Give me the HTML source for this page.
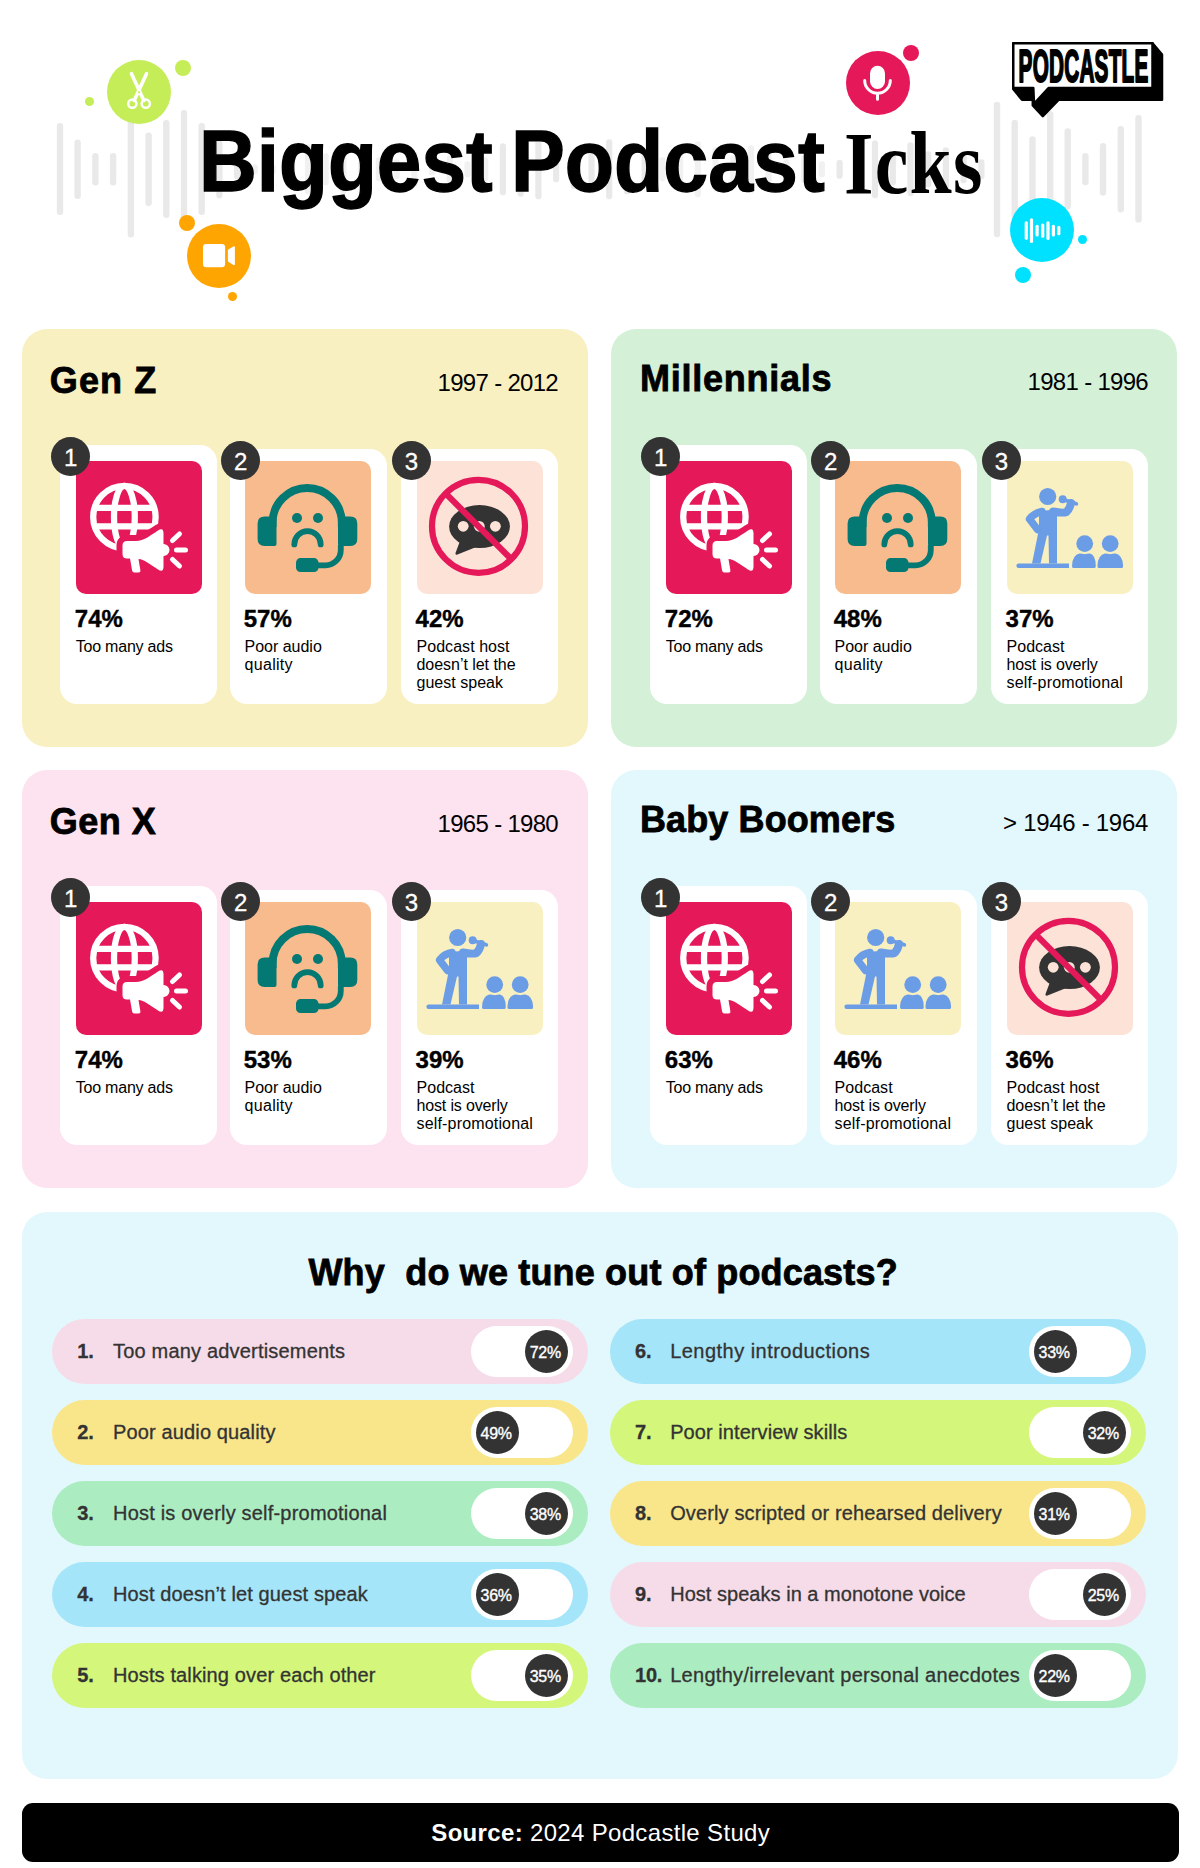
<!DOCTYPE html>
<html lang="en"><head><meta charset="utf-8"><title>Biggest Podcast Icks</title>
<meta name="viewport" content="width=1200">
<style>
*{box-sizing:border-box;margin:0;padding:0}
html,body{width:1200px;height:1868px;background:#fff;overflow:hidden}
body{position:relative;font-family:"Liberation Sans",sans-serif;color:#000}
.t{position:absolute;white-space:nowrap;font-weight:400;display:block}
h1,h2{font-size:inherit;font-weight:inherit}
.hero{position:absolute;left:0;top:0;width:1200px;height:320px}
.wave{position:absolute;left:0;top:0}
.bub{position:absolute;border-radius:50%}
.bub svg{display:block;width:100%;height:100%}
.logo{position:absolute;left:1000px;top:30px}
.panel{position:absolute;width:566px;height:418px;border-radius:25px}
.card{position:absolute;background:#fff;border-radius:17px}
.sq{position:absolute;width:126px;height:133px;border-radius:10px;overflow:hidden}
.sq svg{display:block}
.badge{position:absolute;width:39.500px;height:39.500px;border-radius:50%;background:#333;color:#fff;font-size:24px;line-height:41px;text-align:center;-webkit-text-stroke:0.300px #fff}
.why{position:absolute;width:1155.500px;height:566.500px;border-radius:25px;background:#e3f8fc}
.rows{list-style:none}
.row{position:absolute;width:536px;height:64.600px;border-radius:33px}
.tog{position:absolute;right:15px;top:7px;width:102px;height:50.600px;border-radius:26px;background:#fff}
.knob{position:absolute;top:3.700px;width:43.200px;height:43.200px;border-radius:50%;background:#333;color:#fff;font-size:16px;line-height:46.200px;text-align:center;letter-spacing:-0.300px;padding-right:3px;-webkit-text-stroke:.35px #fff}
.ph{-webkit-text-stroke:.8px #000}
.pct{-webkit-text-stroke:.4px #000}
.l{-webkit-text-stroke:.3px #333}
.n{-webkit-text-stroke:.3px #333}
.foot{position:absolute;left:22px;top:1803px;width:1157px;height:59px;border-radius:11px;background:#000;color:#fff}
</style></head>
<body>
<header class="hero">
<svg class="wave" viewBox="0 0 1200 320" width="1200" height="320" aria-hidden="true"><g fill="#e9e9e9"><rect x="56.8" y="123.0" width="6.4" height="92.0" rx="3.2"/><rect x="74.4" y="139.5" width="6.4" height="59.5" rx="3.2"/><rect x="92.2" y="153.0" width="6.4" height="32.5" rx="3.2"/><rect x="109.9" y="153.0" width="6.4" height="32.5" rx="3.2"/><rect x="127.7" y="100.5" width="6.4" height="137.0" rx="3.2"/><rect x="145.4" y="132.5" width="6.4" height="73.5" rx="3.2"/><rect x="163.1" y="120.0" width="6.4" height="98.0" rx="3.2"/><rect x="180.8" y="110.0" width="6.4" height="118.0" rx="3.2"/><rect x="198.5" y="123.0" width="6.4" height="92.0" rx="3.2"/><rect x="993.8" y="101.7" width="6.4" height="135.5" rx="3.2"/><rect x="1011.5" y="119.7" width="6.4" height="98.6" rx="3.2"/><rect x="1029.3" y="136.2" width="6.4" height="65.6" rx="3.2"/><rect x="1047.0" y="111.0" width="6.4" height="116.0" rx="3.2"/><rect x="1064.5" y="128.3" width="6.4" height="81.1" rx="3.2"/><rect x="1082.2" y="153.0" width="6.4" height="32.3" rx="3.2"/><rect x="1099.8" y="142.9" width="6.4" height="52.8" rx="3.2"/><rect x="1117.6" y="126.0" width="6.4" height="86.5" rx="3.2"/><rect x="1135.3" y="115.0" width="6.4" height="107.7" rx="3.2"/></g><g fill="#e9e9e9"><rect x="216.3" y="140.3" width="6.2" height="58.0" rx="3.1"/><rect x="234.0" y="159.3" width="6.2" height="20.0" rx="3.1"/><rect x="499.8" y="143.3" width="6.2" height="52.0" rx="3.1"/><rect x="517.5" y="141.8" width="6.2" height="55.0" rx="3.1"/><rect x="535.3" y="139.3" width="6.2" height="60.0" rx="3.1"/><rect x="553.0" y="156.3" width="6.2" height="26.0" rx="3.1"/><rect x="570.7" y="149.3" width="6.2" height="40.0" rx="3.1"/><rect x="588.4" y="145.3" width="6.2" height="48.0" rx="3.1"/><rect x="606.1" y="139.3" width="6.2" height="60.0" rx="3.1"/><rect x="623.9" y="144.3" width="6.2" height="50.0" rx="3.1"/><rect x="641.6" y="151.3" width="6.2" height="36.0" rx="3.1"/><rect x="836.5" y="159.8" width="6.2" height="19.0" rx="3.1"/><rect x="854.2" y="149.3" width="6.2" height="40.0" rx="3.1"/><rect x="871.9" y="140.3" width="6.2" height="58.0" rx="3.1"/><rect x="889.7" y="153.3" width="6.2" height="32.0" rx="3.1"/><rect x="907.4" y="142.3" width="6.2" height="54.0" rx="3.1"/><rect x="925.1" y="151.3" width="6.2" height="36.0" rx="3.1"/><rect x="942.8" y="147.3" width="6.2" height="44.0" rx="3.1"/><rect x="960.5" y="155.3" width="6.2" height="28.0" rx="3.1"/><rect x="978.3" y="159.3" width="6.2" height="20.0" rx="3.1"/></g><g fill="#f1f1f1"><rect x="251.7" y="164.3" width="6.2" height="10.0" rx="3.1"/><rect x="269.5" y="164.3" width="6.2" height="10.0" rx="3.1"/><rect x="287.2" y="161.3" width="6.2" height="16.0" rx="3.1"/><rect x="304.9" y="144.3" width="6.2" height="50.0" rx="3.1"/><rect x="322.6" y="153.3" width="6.2" height="32.0" rx="3.1"/><rect x="340.3" y="144.3" width="6.2" height="50.0" rx="3.1"/><rect x="358.1" y="159.3" width="6.2" height="20.0" rx="3.1"/><rect x="375.8" y="157.3" width="6.2" height="24.0" rx="3.1"/><rect x="393.5" y="159.3" width="6.2" height="20.0" rx="3.1"/><rect x="411.2" y="151.3" width="6.2" height="36.0" rx="3.1"/><rect x="428.9" y="163.3" width="6.2" height="12.0" rx="3.1"/><rect x="446.7" y="155.3" width="6.2" height="28.0" rx="3.1"/><rect x="464.4" y="161.3" width="6.2" height="16.0" rx="3.1"/><rect x="482.1" y="157.3" width="6.2" height="24.0" rx="3.1"/><rect x="659.3" y="157.3" width="6.2" height="24.0" rx="3.1"/><rect x="677.0" y="149.3" width="6.2" height="40.0" rx="3.1"/><rect x="694.7" y="141.3" width="6.2" height="56.0" rx="3.1"/><rect x="712.5" y="147.3" width="6.2" height="44.0" rx="3.1"/><rect x="730.2" y="155.3" width="6.2" height="28.0" rx="3.1"/><rect x="747.9" y="145.3" width="6.2" height="48.0" rx="3.1"/><rect x="765.6" y="153.3" width="6.2" height="32.0" rx="3.1"/><rect x="783.3" y="159.3" width="6.2" height="20.0" rx="3.1"/><rect x="801.1" y="155.3" width="6.2" height="28.0" rx="3.1"/><rect x="818.8" y="161.3" width="6.2" height="16.0" rx="3.1"/></g></svg>
<h1 class="title"><span class="t tb" style="left:199.40px;top:118.43px;font-size:87.5px;line-height:87.5px;font-weight:700;-webkit-text-stroke:1.4px #000;transform:scaleX(.915);transform-origin:0 0;">Biggest</span><span class="t tb" style="left:511.10px;top:118.43px;font-size:87.5px;line-height:87.5px;font-weight:700;-webkit-text-stroke:1.4px #000;transform:scaleX(.922);transform-origin:0 0;">Podcast</span><span class="t ts" style="left:844.40px;top:119.90px;font-size:88px;line-height:88px;font-weight:700;letter-spacing:1.5px;font-family:'Liberation Serif', serif;transform:scaleX(.86);transform-origin:0 0;">Icks</span></h1>
<div class="bub" style="left:107.0px;top:60.0px;width:64px;height:64px;background:#c4ed58"><svg viewBox="-32 -32 64 64" width="64" height="64" aria-hidden="true"><g fill="none" stroke="#fff"><path d="M-7.500-18.300L4.800 8.500M7.500-18.300L-4.800 8.500" stroke-width="3.600" stroke-linecap="round"/><circle cx="-6.700" cy="11.700" r="4.100" stroke-width="2.500"/><circle cx="6.800" cy="11.700" r="4.100" stroke-width="2.500"/></g><circle cx="0" cy="0.300" r="1.100" fill="#c4ed58"/></svg></div>
<div class="bub" style="left:175.0px;top:59.8px;width:16px;height:16px;background:#c4ed58"></div>
<div class="bub" style="left:84.8px;top:96.8px;width:9.0px;height:9.0px;background:#c4ed58"></div>
<div class="bub" style="left:846.0px;top:51.0px;width:64px;height:64px;background:#e5195a"><svg viewBox="-32 -32 64 64" width="64" height="64" aria-hidden="true"><rect x="-8" y="-17.300" width="15" height="23.300" rx="7.500" fill="#fff"/><path d="M-13.300-2.500A12.800 12.800 0 0 0 12.300-2.500M-0.500 10.500V16.200" fill="none" stroke="#fff" stroke-width="3" stroke-linecap="round"/></svg></div>
<div class="bub" style="left:903.0px;top:44.8px;width:16px;height:16px;background:#e5195a"></div>
<div class="bub" style="left:187.0px;top:224.0px;width:64px;height:64px;background:#ffa502"><svg viewBox="-32 -32 64 64" width="64" height="64" aria-hidden="true"><rect x="-16" y="-12" width="22.100" height="23.200" rx="3.300" fill="#fff"/><path d="M8.900-6.300L14.400-9.600Q15.900-10.300 15.900-8.600V7.900Q15.900 9.600 14.400 8.900L8.900 5.600Z" fill="#fff"/></svg></div>
<div class="bub" style="left:179.0px;top:214.8px;width:16px;height:16px;background:#ffa502"></div>
<div class="bub" style="left:227.9px;top:291.8px;width:9.0px;height:9.0px;background:#ffa502"></div>
<div class="bub" style="left:1010.0px;top:198.0px;width:64px;height:64px;background:#00e1ff"><svg viewBox="-32 -32 64 64" width="64" height="64" aria-hidden="true"><g fill="#fff"><rect x="-17.35" y="-8.78" width="3.2" height="18.75" rx="1.6"/><rect x="-12.10" y="-11.80" width="3.2" height="24.8" rx="1.6"/><rect x="-6.50" y="-5.35" width="3.2" height="11.9" rx="1.6"/><rect x="-0.90" y="-6.55" width="3.2" height="14.3" rx="1.6"/><rect x="4.40" y="-8.80" width="3.2" height="18.8" rx="1.6"/><rect x="9.80" y="-5.35" width="3.2" height="11.9" rx="1.6"/><rect x="15.20" y="-4.15" width="3.2" height="9.5" rx="1.6"/></g></svg></div>
<div class="bub" style="left:1077.8px;top:234.7px;width:9.2px;height:9.2px;background:#00e1ff"></div>
<div class="bub" style="left:1014.8px;top:266.8px;width:16px;height:16px;background:#00e1ff"></div>
<svg class="logo" viewBox="1000 30 180 100" width="180" height="100" role="img" aria-label="Podcastle">
<path d="M1013.250 43.250H1152.500L1162 54.500V99.800H1058.500L1042.800 116.200L1032.800 105.500V99.800H1022L1013.250 89Z" fill="#000" stroke="#000" stroke-width="2.500" stroke-linejoin="round"/>
<path d="M1013.250 43.250H1152.500V88H1048.500L1034 103.800L1033.300 88H1013.250Z" fill="#fff" stroke="#000" stroke-width="2.500" stroke-linejoin="round"/>
<text transform="translate(1018.600 82) scale(0.455 1)" font-family="Liberation Sans, sans-serif" font-weight="700" font-size="45.500" stroke="#000" stroke-width="1.700" vector-effect="non-scaling-stroke" stroke-linejoin="round" textLength="285" lengthAdjust="spacing">PODCASTLE</text>
</svg>
</header>
<main>
<section class="panel" style="left:22px;top:329px;background:#f9f0c1">
<h2 class="t ph" style="left:27.80px;top:34.13px;font-size:36px;line-height:36px;font-weight:700;letter-spacing:1.1px;">Gen Z</h2>
<span class="t yr" style="right:30.00px;top:42.38px;font-size:24px;line-height:24px;letter-spacing:-0.7px;">1997 - 2012</span>
<div class="card" style="left:38px;top:116px;width:157px;height:258.7px">
<div class="sq" style="left:16.1px;top:16px;background:#e5195a"><svg viewBox="0 0 126 133" width="126" height="133" aria-hidden="true">
<g fill="none" stroke="#fff" stroke-width="6.3">
<circle cx="48.4" cy="56" r="31.2"/>
<ellipse cx="48.4" cy="56" rx="10.4" ry="31.2"/>
<path d="M19 46.8H78M19 65.4H78"/>
</g>
<path id="mega" d="M46.5 84.5Q46.5 80 51 80H60C68 80 74 74.5 82 69.5Q87.5 66 87.5 72.5V83A6 6 0 0 1 87.5 95V105.5Q87.5 112 82 108.5C74 103.500 68 98 62.500 98L64.400 109.300Q64.800 111.500 62.600 111.500H58.300Q56.500 111.500 56.100 109.500L54 97.500H51Q46.500 97.500 46.500 93Z" fill="#fff" stroke="#e5195a" stroke-width="12" stroke-linejoin="round" paint-order="stroke"/>
<g stroke="#fff" stroke-width="5" stroke-linecap="round"><path d="M96.500 79.500L103.500 73M100.500 89H109.500M96.500 98.500L103.500 105"/></g>
</svg></div>
<div class="badge" style="left:-9.05px;top:-8.35px">1</div>
<span class="t pct" style="left:14.80px;top:162.28px;font-size:24px;line-height:24px;font-weight:700;">74%</span>
<span class="t lbl" style="left:15.70px;top:193.96px;font-size:16px;line-height:16px;letter-spacing:-0.21px;">Too many ads</span>
</div>
<div class="card" style="left:207.5px;top:120px;width:157px;height:254.7px">
<div class="sq" style="left:15.5px;top:12px;background:#f8bb8e"><svg viewBox="0 0 126 133" width="126" height="133" aria-hidden="true">
<g fill="none" stroke="#047873">
<path d="M27.600 66V61.600A34.600 34.600 0 0 1 96.800 61.600V66" stroke-width="7.900"/>
<path d="M95.800 84V89A15.300 15.300 0 0 1 80.500 104.300H70" stroke-width="5.800"/>
<path d="M49.300 83.400A13.200 13.200 0 0 1 75.700 83.400" stroke-width="5.800" stroke-linecap="round"/>
</g>
<g fill="#047873">
<path d="M31.500 55.600V83Q31.500 85 29.500 85H19.600Q12.600 85 12.600 78V62.600Q12.600 55.600 19.600 55.600Z"/>
<path d="M93 55.600V83Q93 85 95 85H105.300Q112.300 85 112.300 78V62.600Q112.300 55.600 105.300 55.600Z"/>
<rect x="51" y="97.100" width="22.500" height="14" rx="4.500"/>
<circle cx="52" cy="57" r="5"/><circle cx="73" cy="57" r="5"/>
</g>
</svg></div>
<div class="badge" style="left:-8.55px;top:-8.45px">2</div>
<span class="t pct" style="left:14.20px;top:158.28px;font-size:24px;line-height:24px;font-weight:700;">57%</span>
<span class="t lbl" style="left:15.10px;top:189.96px;font-size:16px;line-height:16px;letter-spacing:-0.02px;">Poor audio</span>
<span class="t lbl" style="left:15.10px;top:207.96px;font-size:16px;line-height:16px;letter-spacing:0.29px;">quality</span>
</div>
<div class="card" style="left:378.5px;top:120px;width:157.5px;height:254.7px">
<div class="sq" style="left:16.4px;top:12px;background:#fde3d7"><svg viewBox="0 0 126 133" width="126" height="133" aria-hidden="true">
<g fill="#333">
<ellipse cx="62.500" cy="65.600" rx="30.400" ry="21.500"/>
<path d="M43 80L38.500 92Q38 94.200 40.500 93.500L58 86.500Z"/>
</g>
<g fill="#fde3d7"><circle cx="46.200" cy="65.300" r="5.400"/><circle cx="62.300" cy="65.300" r="5.400"/><circle cx="78.400" cy="65.300" r="5.400"/></g>
<g fill="none" stroke="#e5195a" stroke-width="6.200">
<circle cx="61.500" cy="65.300" r="46.500"/>
<path d="M28.600 32.400L94.400 98.200"/>
</g>
</svg></div>
<div class="badge" style="left:-8.95px;top:-8.45px">3</div>
<span class="t pct" style="left:15.10px;top:158.28px;font-size:24px;line-height:24px;font-weight:700;">42%</span>
<span class="t lbl" style="left:16.00px;top:189.96px;font-size:16px;line-height:16px;letter-spacing:0.05px;">Podcast host</span>
<span class="t lbl" style="left:16.00px;top:207.96px;font-size:16px;line-height:16px;letter-spacing:-0.04px;">doesn’t let the</span>
<span class="t lbl" style="left:16.00px;top:225.96px;font-size:16px;line-height:16px;letter-spacing:0.02px;">guest speak</span>
</div>
</section>
<section class="panel" style="left:611px;top:329px;background:#d4f1d8">
<h2 class="t ph" style="left:29.00px;top:32.03px;font-size:36px;line-height:36px;font-weight:700;letter-spacing:0.75px;">Millennials</h2>
<span class="t yr" style="right:29.00px;top:40.88px;font-size:24px;line-height:24px;letter-spacing:-0.7px;">1981 - 1996</span>
<div class="card" style="left:39px;top:116px;width:157px;height:258.7px">
<div class="sq" style="left:16.1px;top:16px;background:#e5195a"><svg viewBox="0 0 126 133" width="126" height="133" aria-hidden="true">
<g fill="none" stroke="#fff" stroke-width="6.3">
<circle cx="48.4" cy="56" r="31.2"/>
<ellipse cx="48.4" cy="56" rx="10.4" ry="31.2"/>
<path d="M19 46.8H78M19 65.4H78"/>
</g>
<path id="mega" d="M46.5 84.5Q46.5 80 51 80H60C68 80 74 74.5 82 69.5Q87.5 66 87.5 72.5V83A6 6 0 0 1 87.5 95V105.5Q87.5 112 82 108.5C74 103.500 68 98 62.500 98L64.400 109.300Q64.800 111.500 62.600 111.500H58.300Q56.500 111.500 56.100 109.500L54 97.500H51Q46.500 97.500 46.500 93Z" fill="#fff" stroke="#e5195a" stroke-width="12" stroke-linejoin="round" paint-order="stroke"/>
<g stroke="#fff" stroke-width="5" stroke-linecap="round"><path d="M96.500 79.500L103.500 73M100.500 89H109.500M96.500 98.500L103.500 105"/></g>
</svg></div>
<div class="badge" style="left:-9.05px;top:-8.35px">1</div>
<span class="t pct" style="left:14.80px;top:162.28px;font-size:24px;line-height:24px;font-weight:700;">72%</span>
<span class="t lbl" style="left:15.70px;top:193.96px;font-size:16px;line-height:16px;letter-spacing:-0.21px;">Too many ads</span>
</div>
<div class="card" style="left:208.5px;top:120px;width:157px;height:254.7px">
<div class="sq" style="left:15.5px;top:12px;background:#f8bb8e"><svg viewBox="0 0 126 133" width="126" height="133" aria-hidden="true">
<g fill="none" stroke="#047873">
<path d="M27.600 66V61.600A34.600 34.600 0 0 1 96.800 61.600V66" stroke-width="7.900"/>
<path d="M95.800 84V89A15.300 15.300 0 0 1 80.500 104.300H70" stroke-width="5.800"/>
<path d="M49.300 83.400A13.200 13.200 0 0 1 75.700 83.400" stroke-width="5.800" stroke-linecap="round"/>
</g>
<g fill="#047873">
<path d="M31.500 55.600V83Q31.500 85 29.500 85H19.600Q12.600 85 12.600 78V62.600Q12.600 55.600 19.600 55.600Z"/>
<path d="M93 55.600V83Q93 85 95 85H105.300Q112.300 85 112.300 78V62.600Q112.300 55.600 105.300 55.600Z"/>
<rect x="51" y="97.100" width="22.500" height="14" rx="4.500"/>
<circle cx="52" cy="57" r="5"/><circle cx="73" cy="57" r="5"/>
</g>
</svg></div>
<div class="badge" style="left:-8.55px;top:-8.45px">2</div>
<span class="t pct" style="left:14.20px;top:158.28px;font-size:24px;line-height:24px;font-weight:700;">48%</span>
<span class="t lbl" style="left:15.10px;top:189.96px;font-size:16px;line-height:16px;letter-spacing:-0.02px;">Poor audio</span>
<span class="t lbl" style="left:15.10px;top:207.96px;font-size:16px;line-height:16px;letter-spacing:0.29px;">quality</span>
</div>
<div class="card" style="left:379.5px;top:120px;width:157.5px;height:254.7px">
<div class="sq" style="left:16.4px;top:12px;background:#f9f0c2"><svg viewBox="0 0 126 133" width="126" height="133" aria-hidden="true">
<g fill="#6b9ce6">
<circle cx="40.700" cy="35.500" r="8.600"/>
<circle cx="55.700" cy="38.300" r="4"/>
<path d="M32 50L50 48.500V102.500H42L41.500 74.500H40L33.500 102.500H25L32 68Z"/>
<path d="M9.400 104.650a2.250 2.250 0 0 1 2.250-2.250H62V106.900H11.650a2.250 2.250 0 0 1-2.250-2.250Z"/>
<path d="M66.600 106.900Q65.100 106.900 65.100 105.400V104Q65.600 94 72.500 92.400H83Q88.500 94 88.700 104V105.400Q88.700 106.900 87.200 106.900Z"/>
<path d="M92 106.900Q90.500 106.900 90.500 105.400V104Q91 94 98 92.400H108.500Q115.500 94 116 104V105.400Q116 106.900 114.500 106.900Z"/>
</g>
<g fill="none" stroke="#6b9ce6" stroke-linecap="round" stroke-linejoin="round">
<path d="M56 38.500L69.300 42.800" stroke-width="3.800"/>
<path d="M46 50.500Q56 52.500 59.500 51Q63 47.500 64 42" stroke-width="8"/>
<path d="M35 50.500Q27 52 22.500 58L30.500 68.500" stroke-width="7.500"/>
</g>
<g fill="#f9f0c2"><circle cx="77.700" cy="82.600" r="10.600"/><circle cx="103.200" cy="82.600" r="10.600"/></g>
<g fill="#6b9ce6"><circle cx="77.700" cy="82.600" r="8.400"/><circle cx="103.200" cy="82.600" r="8.400"/></g>
</svg></div>
<div class="badge" style="left:-8.95px;top:-8.45px">3</div>
<span class="t pct" style="left:15.10px;top:158.28px;font-size:24px;line-height:24px;font-weight:700;">37%</span>
<span class="t lbl" style="left:16.00px;top:189.96px;font-size:16px;line-height:16px;letter-spacing:0.03px;">Podcast</span>
<span class="t lbl" style="left:16.00px;top:207.96px;font-size:16px;line-height:16px;letter-spacing:-0.16px;">host is overly</span>
<span class="t lbl" style="left:16.00px;top:225.96px;font-size:16px;line-height:16px;letter-spacing:0.17px;">self-promotional</span>
</div>
</section>
<section class="panel" style="left:22px;top:770px;background:#fde2f0">
<h2 class="t ph" style="left:27.80px;top:34.13px;font-size:36px;line-height:36px;font-weight:700;letter-spacing:0.5px;">Gen X</h2>
<span class="t yr" style="right:30.00px;top:42.38px;font-size:24px;line-height:24px;letter-spacing:-0.7px;">1965 - 1980</span>
<div class="card" style="left:38px;top:116px;width:157px;height:258.7px">
<div class="sq" style="left:16.1px;top:16px;background:#e5195a"><svg viewBox="0 0 126 133" width="126" height="133" aria-hidden="true">
<g fill="none" stroke="#fff" stroke-width="6.3">
<circle cx="48.4" cy="56" r="31.2"/>
<ellipse cx="48.4" cy="56" rx="10.4" ry="31.2"/>
<path d="M19 46.8H78M19 65.4H78"/>
</g>
<path id="mega" d="M46.5 84.5Q46.5 80 51 80H60C68 80 74 74.5 82 69.5Q87.5 66 87.5 72.5V83A6 6 0 0 1 87.5 95V105.5Q87.5 112 82 108.5C74 103.500 68 98 62.500 98L64.400 109.300Q64.800 111.500 62.600 111.500H58.300Q56.500 111.500 56.100 109.500L54 97.500H51Q46.500 97.500 46.500 93Z" fill="#fff" stroke="#e5195a" stroke-width="12" stroke-linejoin="round" paint-order="stroke"/>
<g stroke="#fff" stroke-width="5" stroke-linecap="round"><path d="M96.500 79.500L103.500 73M100.500 89H109.500M96.500 98.500L103.500 105"/></g>
</svg></div>
<div class="badge" style="left:-9.05px;top:-8.35px">1</div>
<span class="t pct" style="left:14.80px;top:162.28px;font-size:24px;line-height:24px;font-weight:700;">74%</span>
<span class="t lbl" style="left:15.70px;top:193.96px;font-size:16px;line-height:16px;letter-spacing:-0.21px;">Too many ads</span>
</div>
<div class="card" style="left:207.5px;top:120px;width:157px;height:254.7px">
<div class="sq" style="left:15.5px;top:12px;background:#f8bb8e"><svg viewBox="0 0 126 133" width="126" height="133" aria-hidden="true">
<g fill="none" stroke="#047873">
<path d="M27.600 66V61.600A34.600 34.600 0 0 1 96.800 61.600V66" stroke-width="7.900"/>
<path d="M95.800 84V89A15.300 15.300 0 0 1 80.500 104.300H70" stroke-width="5.800"/>
<path d="M49.300 83.400A13.200 13.200 0 0 1 75.700 83.400" stroke-width="5.800" stroke-linecap="round"/>
</g>
<g fill="#047873">
<path d="M31.500 55.600V83Q31.500 85 29.500 85H19.600Q12.600 85 12.600 78V62.600Q12.600 55.600 19.600 55.600Z"/>
<path d="M93 55.600V83Q93 85 95 85H105.300Q112.300 85 112.300 78V62.600Q112.300 55.600 105.300 55.600Z"/>
<rect x="51" y="97.100" width="22.500" height="14" rx="4.500"/>
<circle cx="52" cy="57" r="5"/><circle cx="73" cy="57" r="5"/>
</g>
</svg></div>
<div class="badge" style="left:-8.55px;top:-8.45px">2</div>
<span class="t pct" style="left:14.20px;top:158.28px;font-size:24px;line-height:24px;font-weight:700;">53%</span>
<span class="t lbl" style="left:15.10px;top:189.96px;font-size:16px;line-height:16px;letter-spacing:-0.02px;">Poor audio</span>
<span class="t lbl" style="left:15.10px;top:207.96px;font-size:16px;line-height:16px;letter-spacing:0.29px;">quality</span>
</div>
<div class="card" style="left:378.5px;top:120px;width:157.5px;height:254.7px">
<div class="sq" style="left:16.4px;top:12px;background:#f9f0c2"><svg viewBox="0 0 126 133" width="126" height="133" aria-hidden="true">
<g fill="#6b9ce6">
<circle cx="40.700" cy="35.500" r="8.600"/>
<circle cx="55.700" cy="38.300" r="4"/>
<path d="M32 50L50 48.500V102.500H42L41.500 74.500H40L33.500 102.500H25L32 68Z"/>
<path d="M9.400 104.650a2.250 2.250 0 0 1 2.250-2.250H62V106.900H11.650a2.250 2.250 0 0 1-2.250-2.250Z"/>
<path d="M66.600 106.900Q65.100 106.900 65.100 105.400V104Q65.600 94 72.500 92.400H83Q88.500 94 88.700 104V105.400Q88.700 106.900 87.200 106.900Z"/>
<path d="M92 106.900Q90.500 106.900 90.500 105.400V104Q91 94 98 92.400H108.500Q115.500 94 116 104V105.400Q116 106.900 114.500 106.900Z"/>
</g>
<g fill="none" stroke="#6b9ce6" stroke-linecap="round" stroke-linejoin="round">
<path d="M56 38.500L69.300 42.800" stroke-width="3.800"/>
<path d="M46 50.500Q56 52.500 59.500 51Q63 47.500 64 42" stroke-width="8"/>
<path d="M35 50.500Q27 52 22.500 58L30.500 68.500" stroke-width="7.500"/>
</g>
<g fill="#f9f0c2"><circle cx="77.700" cy="82.600" r="10.600"/><circle cx="103.200" cy="82.600" r="10.600"/></g>
<g fill="#6b9ce6"><circle cx="77.700" cy="82.600" r="8.400"/><circle cx="103.200" cy="82.600" r="8.400"/></g>
</svg></div>
<div class="badge" style="left:-8.95px;top:-8.45px">3</div>
<span class="t pct" style="left:15.10px;top:158.28px;font-size:24px;line-height:24px;font-weight:700;">39%</span>
<span class="t lbl" style="left:16.00px;top:189.96px;font-size:16px;line-height:16px;letter-spacing:0.03px;">Podcast</span>
<span class="t lbl" style="left:16.00px;top:207.96px;font-size:16px;line-height:16px;letter-spacing:-0.16px;">host is overly</span>
<span class="t lbl" style="left:16.00px;top:225.96px;font-size:16px;line-height:16px;letter-spacing:0.17px;">self-promotional</span>
</div>
</section>
<section class="panel" style="left:611px;top:770px;background:#e3f8fc">
<h2 class="t ph" style="left:29.00px;top:32.03px;font-size:36px;line-height:36px;font-weight:700;letter-spacing:0.1px;">Baby Boomers</h2>
<span class="t yr" style="right:29.00px;top:40.88px;font-size:24px;line-height:24px;letter-spacing:-0.3px;">&gt; 1946 - 1964</span>
<div class="card" style="left:39px;top:116px;width:157px;height:258.7px">
<div class="sq" style="left:16.1px;top:16px;background:#e5195a"><svg viewBox="0 0 126 133" width="126" height="133" aria-hidden="true">
<g fill="none" stroke="#fff" stroke-width="6.3">
<circle cx="48.4" cy="56" r="31.2"/>
<ellipse cx="48.4" cy="56" rx="10.4" ry="31.2"/>
<path d="M19 46.8H78M19 65.4H78"/>
</g>
<path id="mega" d="M46.5 84.5Q46.5 80 51 80H60C68 80 74 74.5 82 69.5Q87.5 66 87.5 72.5V83A6 6 0 0 1 87.5 95V105.5Q87.5 112 82 108.5C74 103.500 68 98 62.500 98L64.400 109.300Q64.800 111.500 62.600 111.500H58.300Q56.500 111.500 56.100 109.500L54 97.500H51Q46.500 97.500 46.500 93Z" fill="#fff" stroke="#e5195a" stroke-width="12" stroke-linejoin="round" paint-order="stroke"/>
<g stroke="#fff" stroke-width="5" stroke-linecap="round"><path d="M96.500 79.500L103.500 73M100.500 89H109.500M96.500 98.500L103.500 105"/></g>
</svg></div>
<div class="badge" style="left:-9.05px;top:-8.35px">1</div>
<span class="t pct" style="left:14.80px;top:162.28px;font-size:24px;line-height:24px;font-weight:700;">63%</span>
<span class="t lbl" style="left:15.70px;top:193.96px;font-size:16px;line-height:16px;letter-spacing:-0.21px;">Too many ads</span>
</div>
<div class="card" style="left:208.5px;top:120px;width:157px;height:254.7px">
<div class="sq" style="left:15.5px;top:12px;background:#f9f0c2"><svg viewBox="0 0 126 133" width="126" height="133" aria-hidden="true">
<g fill="#6b9ce6">
<circle cx="40.700" cy="35.500" r="8.600"/>
<circle cx="55.700" cy="38.300" r="4"/>
<path d="M32 50L50 48.500V102.500H42L41.500 74.500H40L33.500 102.500H25L32 68Z"/>
<path d="M9.400 104.650a2.250 2.250 0 0 1 2.250-2.250H62V106.900H11.650a2.250 2.250 0 0 1-2.250-2.250Z"/>
<path d="M66.600 106.900Q65.100 106.900 65.100 105.400V104Q65.600 94 72.500 92.400H83Q88.500 94 88.700 104V105.400Q88.700 106.900 87.200 106.900Z"/>
<path d="M92 106.900Q90.500 106.900 90.500 105.400V104Q91 94 98 92.400H108.500Q115.500 94 116 104V105.400Q116 106.900 114.500 106.900Z"/>
</g>
<g fill="none" stroke="#6b9ce6" stroke-linecap="round" stroke-linejoin="round">
<path d="M56 38.500L69.300 42.800" stroke-width="3.800"/>
<path d="M46 50.500Q56 52.500 59.500 51Q63 47.500 64 42" stroke-width="8"/>
<path d="M35 50.500Q27 52 22.500 58L30.500 68.500" stroke-width="7.500"/>
</g>
<g fill="#f9f0c2"><circle cx="77.700" cy="82.600" r="10.600"/><circle cx="103.200" cy="82.600" r="10.600"/></g>
<g fill="#6b9ce6"><circle cx="77.700" cy="82.600" r="8.400"/><circle cx="103.200" cy="82.600" r="8.400"/></g>
</svg></div>
<div class="badge" style="left:-8.55px;top:-8.45px">2</div>
<span class="t pct" style="left:14.20px;top:158.28px;font-size:24px;line-height:24px;font-weight:700;">46%</span>
<span class="t lbl" style="left:15.10px;top:189.96px;font-size:16px;line-height:16px;letter-spacing:0.03px;">Podcast</span>
<span class="t lbl" style="left:15.10px;top:207.96px;font-size:16px;line-height:16px;letter-spacing:-0.16px;">host is overly</span>
<span class="t lbl" style="left:15.10px;top:225.96px;font-size:16px;line-height:16px;letter-spacing:0.17px;">self-promotional</span>
</div>
<div class="card" style="left:379.5px;top:120px;width:157.5px;height:254.7px">
<div class="sq" style="left:16.4px;top:12px;background:#fde3d7"><svg viewBox="0 0 126 133" width="126" height="133" aria-hidden="true">
<g fill="#333">
<ellipse cx="62.500" cy="65.600" rx="30.400" ry="21.500"/>
<path d="M43 80L38.500 92Q38 94.200 40.500 93.500L58 86.500Z"/>
</g>
<g fill="#fde3d7"><circle cx="46.200" cy="65.300" r="5.400"/><circle cx="62.300" cy="65.300" r="5.400"/><circle cx="78.400" cy="65.300" r="5.400"/></g>
<g fill="none" stroke="#e5195a" stroke-width="6.200">
<circle cx="61.500" cy="65.300" r="46.500"/>
<path d="M28.600 32.400L94.400 98.200"/>
</g>
</svg></div>
<div class="badge" style="left:-8.95px;top:-8.45px">3</div>
<span class="t pct" style="left:15.10px;top:158.28px;font-size:24px;line-height:24px;font-weight:700;">36%</span>
<span class="t lbl" style="left:16.00px;top:189.96px;font-size:16px;line-height:16px;letter-spacing:0.05px;">Podcast host</span>
<span class="t lbl" style="left:16.00px;top:207.96px;font-size:16px;line-height:16px;letter-spacing:-0.04px;">doesn’t let the</span>
<span class="t lbl" style="left:16.00px;top:225.96px;font-size:16px;line-height:16px;letter-spacing:0.02px;">guest speak</span>
</div>
</section>
<section class="why" style="left:22px;top:1212px">
<h2 class="t ph" style="left:286.40px;top:43.13px;font-size:36px;line-height:36px;font-weight:700;letter-spacing:0.17px;">Why&nbsp; do we tune out of podcasts?</h2>
<ol class="rows">
<li class="row" style="left:30px;top:107.3px;background:#f6dce9">
<span class="t n" style="left:25.30px;top:22.07px;font-size:20px;line-height:20px;font-weight:700;color:#333;letter-spacing:-0.2px;">1.</span>
<span class="t l" style="left:61.00px;top:22.07px;font-size:20px;line-height:20px;color:#333;letter-spacing:0.19px;">Too many advertisements</span>
<div class="tog"><div class="knob" style="left:54.2px">72%</div></div>
</li>
<li class="row" style="left:30px;top:188.3px;background:#f9e68b">
<span class="t n" style="left:25.30px;top:22.07px;font-size:20px;line-height:20px;font-weight:700;color:#333;letter-spacing:-0.2px;">2.</span>
<span class="t l" style="left:61.00px;top:22.07px;font-size:20px;line-height:20px;color:#333;letter-spacing:0.14px;">Poor audio quality</span>
<div class="tog"><div class="knob" style="left:5px">49%</div></div>
</li>
<li class="row" style="left:30px;top:269.3px;background:#abedc1">
<span class="t n" style="left:25.30px;top:22.07px;font-size:20px;line-height:20px;font-weight:700;color:#333;letter-spacing:-0.2px;">3.</span>
<span class="t l" style="left:61.00px;top:22.07px;font-size:20px;line-height:20px;color:#333;letter-spacing:0.2px;">Host is overly self-promotional</span>
<div class="tog"><div class="knob" style="left:54.2px">38%</div></div>
</li>
<li class="row" style="left:30px;top:350.3px;background:#a4e5f9">
<span class="t n" style="left:25.30px;top:22.07px;font-size:20px;line-height:20px;font-weight:700;color:#333;letter-spacing:-0.2px;">4.</span>
<span class="t l" style="left:61.00px;top:22.07px;font-size:20px;line-height:20px;color:#333;letter-spacing:0.13px;">Host doesn’t let guest speak</span>
<div class="tog"><div class="knob" style="left:5px">36%</div></div>
</li>
<li class="row" style="left:30px;top:431.3px;background:#d4f67a">
<span class="t n" style="left:25.30px;top:22.07px;font-size:20px;line-height:20px;font-weight:700;color:#333;letter-spacing:-0.2px;">5.</span>
<span class="t l" style="left:61.00px;top:22.07px;font-size:20px;line-height:20px;color:#333;letter-spacing:0.125px;">Hosts talking over each other</span>
<div class="tog"><div class="knob" style="left:54.2px">35%</div></div>
</li>
<li class="row" style="left:588px;top:107.3px;background:#a4e5f9">
<span class="t n" style="left:25.00px;top:22.07px;font-size:20px;line-height:20px;font-weight:700;color:#333;letter-spacing:-0.2px;">6.</span>
<span class="t l" style="left:60.20px;top:22.07px;font-size:20px;line-height:20px;color:#333;letter-spacing:0.47px;">Lengthy introductions</span>
<div class="tog"><div class="knob" style="left:5px">33%</div></div>
</li>
<li class="row" style="left:588px;top:188.3px;background:#d4f67a">
<span class="t n" style="left:25.00px;top:22.07px;font-size:20px;line-height:20px;font-weight:700;color:#333;letter-spacing:-0.2px;">7.</span>
<span class="t l" style="left:60.20px;top:22.07px;font-size:20px;line-height:20px;color:#333;letter-spacing:0.07px;">Poor interview skills</span>
<div class="tog"><div class="knob" style="left:54.2px">32%</div></div>
</li>
<li class="row" style="left:588px;top:269.3px;background:#f9e68b">
<span class="t n" style="left:25.00px;top:22.07px;font-size:20px;line-height:20px;font-weight:700;color:#333;letter-spacing:-0.2px;">8.</span>
<span class="t l" style="left:60.20px;top:22.07px;font-size:20px;line-height:20px;color:#333;letter-spacing:0.13px;">Overly scripted or rehearsed delivery</span>
<div class="tog"><div class="knob" style="left:5px">31%</div></div>
</li>
<li class="row" style="left:588px;top:350.3px;background:#f6dce9">
<span class="t n" style="left:25.00px;top:22.07px;font-size:20px;line-height:20px;font-weight:700;color:#333;letter-spacing:-0.2px;">9.</span>
<span class="t l" style="left:60.20px;top:22.07px;font-size:20px;line-height:20px;color:#333;letter-spacing:0.03px;">Host speaks in a monotone voice</span>
<div class="tog"><div class="knob" style="left:54.2px">25%</div></div>
</li>
<li class="row" style="left:588px;top:431.3px;background:#abedc1">
<span class="t n" style="left:25.00px;top:22.07px;font-size:20px;line-height:20px;font-weight:700;color:#333;letter-spacing:-0.2px;">10.</span>
<span class="t l" style="left:60.20px;top:22.07px;font-size:20px;line-height:20px;color:#333;letter-spacing:0.29px;">Lengthy/irrelevant personal anecdotes</span>
<div class="tog"><div class="knob" style="left:5px">22%</div></div>
</li>
</ol></section>
</main>
<footer class="foot"><p class="t src" style="left:409.30px;top:18.28px;font-size:24px;line-height:24px;color:#fff;letter-spacing:0.33px;"><b>Source:</b> 2024 Podcastle Study</p></footer>
</body></html>
